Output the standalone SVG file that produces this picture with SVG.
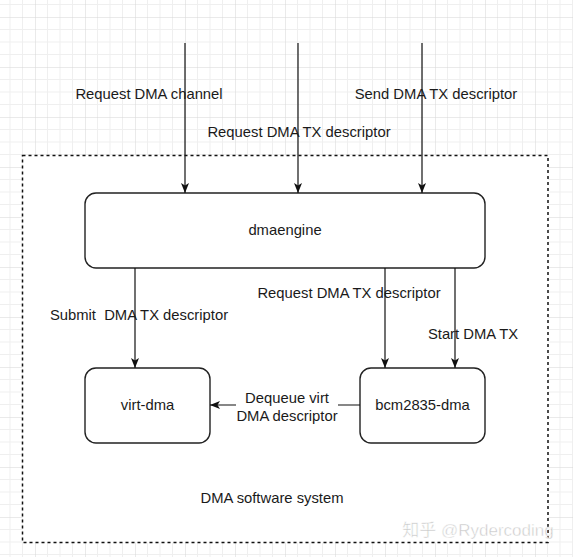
<svg xmlns="http://www.w3.org/2000/svg" width="573" height="557" viewBox="0 0 573 557">
<style>
.t{font-family:"Liberation Sans",Arial,sans-serif;font-size:14.8px;fill:#1a1a1a;text-anchor:middle}
.box{fill:#fff;stroke:#222;stroke-width:1.4}
.edge{stroke:#111;stroke-width:1.2;fill:none}
</style>
<defs>
<pattern id="grid" patternUnits="userSpaceOnUse" x="35" y="17" width="50" height="50">
<path d="M12.5 0V50M25 0V50M37.5 0V50M0 12.5H50M0 25H50M0 37.5H50" stroke="#efefef" stroke-width="1"/>
<path d="M0 0V50M0 0H50" stroke="#d6d6d6" stroke-width="1"/>
</pattern>
<marker id="arr" markerUnits="userSpaceOnUse" markerWidth="11" markerHeight="9" refX="10" refY="4.5" orient="auto">
<path d="M0,0.5 L10,4.5 L0,8.5 L2.5,4.5 z" fill="#111"/>
</marker>
</defs>
<rect width="573" height="557" fill="#fff"/>
<rect width="573" height="557" fill="url(#grid)"/>
<g id="container">
<rect x="22.5" y="155.5" width="525.5" height="387" fill="#fff" stroke="#111" stroke-width="1.5" stroke-dasharray="3 3"/>
<text class="t" x="272" y="503">DMA software system</text>
</g>
<g id="dmaengine">
<rect class="box" x="85" y="193" width="400" height="75" rx="11"/>
<text class="t" x="285" y="235">dmaengine</text>
</g>
<g id="virt-dma">
<rect class="box" x="85" y="368" width="125" height="75" rx="11"/>
<text class="t" x="147.5" y="410">virt-dma</text>
</g>
<g id="bcm2835-dma">
<rect class="box" x="360" y="368" width="125" height="75" rx="11"/>
<text class="t" x="422.5" y="410">bcm2835-dma</text>
</g>
<g id="connectors">
<line class="edge" x1="185" y1="43" x2="185" y2="193" marker-end="url(#arr)"/>
<line class="edge" x1="298" y1="43" x2="298" y2="193" marker-end="url(#arr)"/>
<line class="edge" x1="422" y1="43" x2="422" y2="193" marker-end="url(#arr)"/>
<line class="edge" x1="135" y1="268" x2="135" y2="368" marker-end="url(#arr)"/>
<line class="edge" x1="385" y1="268" x2="385" y2="368" marker-end="url(#arr)"/>
<line class="edge" x1="455" y1="268" x2="455" y2="368" marker-end="url(#arr)"/>
<line class="edge" x1="360" y1="405" x2="210" y2="405" marker-end="url(#arr)"/>
<text class="t" x="149" y="99">Request DMA channel</text>
<text class="t" x="299" y="137">Request DMA TX descriptor</text>
<text class="t" x="436" y="99">Send DMA TX descriptor</text>
<text class="t" x="139" y="320" xml:space="preserve">Submit  DMA TX descriptor</text>
<text class="t" x="349" y="298">Request DMA TX descriptor</text>
<text class="t" x="473" y="339">Start DMA TX</text>
<rect x="236" y="388" width="102" height="36" fill="#fff"/>
<text class="t" x="287" y="403">Dequeue virt</text>
<text class="t" x="287" y="421">DMA descriptor</text>
</g>
<text x="478" y="536" style="font-family:'Liberation Sans','Noto Sans CJK SC',sans-serif;font-size:17px;fill:#c8c8c8;text-anchor:middle;stroke:#fff;stroke-width:0.5">知乎 @Rydercoding</text>
</svg>
